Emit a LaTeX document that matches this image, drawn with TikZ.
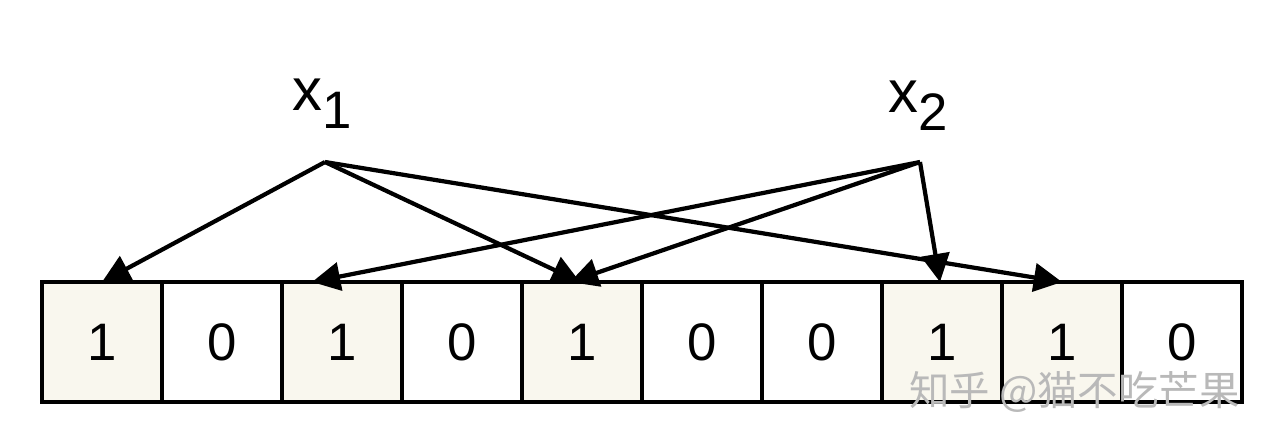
\documentclass[tikz,border=0pt]{standalone}
\usepackage{fontspec}
\setmainfont{Liberation Sans}
\newfontfamily\cjk{Noto Sans CJK SC}
\usetikzlibrary{arrows.meta}
\begin{document}
\begin{tikzpicture}[x=0.01cm,y=-0.01cm,
  cell/.style={draw,line width=1.2pt,minimum width=1.2cm,minimum height=1.2cm,inner sep=0pt,font=\fontsize{15}{18}\selectfont},
  on/.style={cell,fill={rgb,255:red,249;green,247;blue,238}},
  off/.style={cell,fill=white},
  arr/.style={line width=1.2pt,-{Triangle[length=8pt,width=8pt]}},
  lab/.style={font=\fontsize{17}{20}\selectfont,inner sep=0pt}]
\useasboundingbox (0,0) rectangle (1284,444);
\foreach \i/\s/\v in {0/on/1,1/off/0,2/on/1,3/off/0,4/on/1,5/off/0,6/off/0,7/on/1,8/on/1,9/off/0}
  \node[\s] (c\i) at (102+120*\i,342) {\v};
\node[lab] (x1) at (322,104) {x\raisebox{-0.3em}{\fontsize{15}{18}\selectfont 1}};
\node[lab] (x2) at (918,106) {x\raisebox{-0.3em}{\fontsize{15}{18}\selectfont 2}};
\coordinate (s1) at (325,162);
\coordinate (s2) at (920,162);
\coordinate (t0) at (102,282);
\coordinate (t8) at (1062,282);
\coordinate (t4a) at (580,282);
\coordinate (t2) at (312,282);
\coordinate (t4b) at (570,282);
\coordinate (t7) at (940,282);
\draw[arr] (s1) -- (t0);
\draw[arr] (s1) -- (t4a);
\draw[arr] (s1) -- (t8);
\draw[arr] (s2) -- (t2);
\draw[arr] (s2) -- (t4b);
\draw[arr] (s2) -- (t7);
\node[font=\cjk\fontsize{11.5}{14}\selectfont,text=gray!55,anchor=east] (wm) at (1252,392) {知乎 @猫不吃芒果};
\end{tikzpicture}
\end{document}
